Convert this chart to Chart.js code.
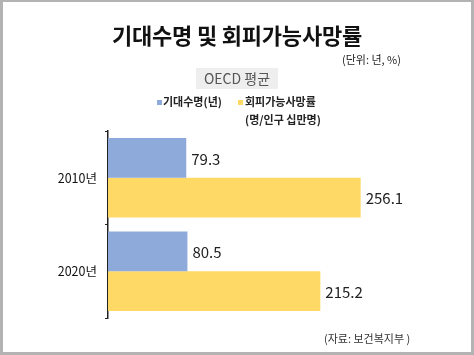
<!DOCTYPE html>
<html><head><meta charset="utf-8">
<script src="https://cdn.jsdelivr.net/npm/chart.js@4"></script>
<style>
html,body{margin:0;padding:0;background:#fff;}
#wrap{position:relative;width:474px;height:355px;box-sizing:border-box;border:3px solid #b3b3b3;border-top-width:2px;overflow:hidden;font-family:"Noto Sans CJK KR","Noto Sans",sans-serif;color:#222;}
#c{position:absolute;left:-3px;top:-2px;}
.t{position:absolute;white-space:nowrap;line-height:1;}
#title{left:0;width:468px;text-align:center;top:21px;font-size:22px;font-weight:bold;color:#111;letter-spacing:-0.2px;}
#unit{left:339px;top:52px;font-size:11px;color:#222;}
#oecd{left:193px;top:66px;width:82px;height:21px;background:#eeeeee;font-size:14px;color:#555;text-align:center;line-height:21px;}
.sw{position:absolute;width:5px;height:5px;}
.lg{font-size:11px;font-weight:bold;color:#222;}
#src{left:321px;top:331px;font-size:11px;color:#333;}
</style></head><body>
<div id="wrap">
<canvas id="c" width="474" height="355"></canvas>
<div class="t" id="title">기대수명 및 회피가능사망률</div>
<div class="t" id="unit">(단위: 년, %)</div>
<div class="t" id="oecd">OECD 평균</div>
<div class="sw" style="left:154px;top:98px;background:#8eaadb"></div>
<div class="t lg" style="left:160px;top:94px">기대수명(년)</div>
<div class="sw" style="left:235px;top:98px;background:#ffd966"></div>
<div class="t lg" style="left:242px;top:94px">회피가능사망률</div>
<div class="t lg" style="left:242px;top:112px">(명/인구 십만명)</div>
<div class="t" id="src">(자료: 보건복지부 )</div>
</div>
<script>
const categories = ["2010년", "2020년"];
const seriesNames = ["기대수명(년)", "회피가능사망률"];
const lifeExpectancy = [79.3, 80.5];
const avoidableMortality = [256.1, 215.2];

const labelPlugin = {
  id: 'vals',
  afterDatasetsDraw(chart) {
    const ctx = chart.ctx;
    ctx.save();
    ctx.font = '15px "Noto Sans CJK KR","Noto Sans",sans-serif';
    ctx.fillStyle = '#222';
    ctx.textBaseline = 'middle';
    ctx.textAlign = 'left';
    chart.data.datasets.forEach((ds, i) => {
      chart.getDatasetMeta(i).data.forEach((el, j) => {
        ctx.fillText(ds.data[j].toFixed(1), el.x + 5, el.y + 1);
      });
    });
    ctx.restore();
  }
};

new Chart(document.getElementById('c'), {
  type: 'bar',
  data: {
    labels: categories,
    datasets: [
      { label: seriesNames[0], data: lifeExpectancy, backgroundColor: '#8eaadb' },
      { label: seriesNames[1], data: avoidableMortality, backgroundColor: '#ffd966' }
    ]
  },
  options: {
    indexAxis: 'y',
    responsive: false,
    animation: false,
    devicePixelRatio: 1,
    layout: { padding: { top: 131, bottom: 37, left: 0, right: 70 } },
    datasets: { bar: { categoryPercentage: 0.85, barPercentage: 1.0 } },
    plugins: { legend: { display: false }, tooltip: { enabled: false }, title: { display: false } },
    scales: {
      x: { display: false, min: 0, max: 300 },
      y: {
        afterFit(s) { s.width = 108; },
        grid: { display: true, drawOnChartArea: false, drawTicks: true, tickLength: 3, color: '#222', lineWidth: 1 },
        border: { display: true, color: '#222', width: 1.5 },
        ticks: { color: '#111', padding: 8, font: { size: 12.5, family: '"Noto Sans CJK KR","Noto Sans",sans-serif' } }
      }
    }
  },
  plugins: [labelPlugin]
});
</script>
</body></html>
